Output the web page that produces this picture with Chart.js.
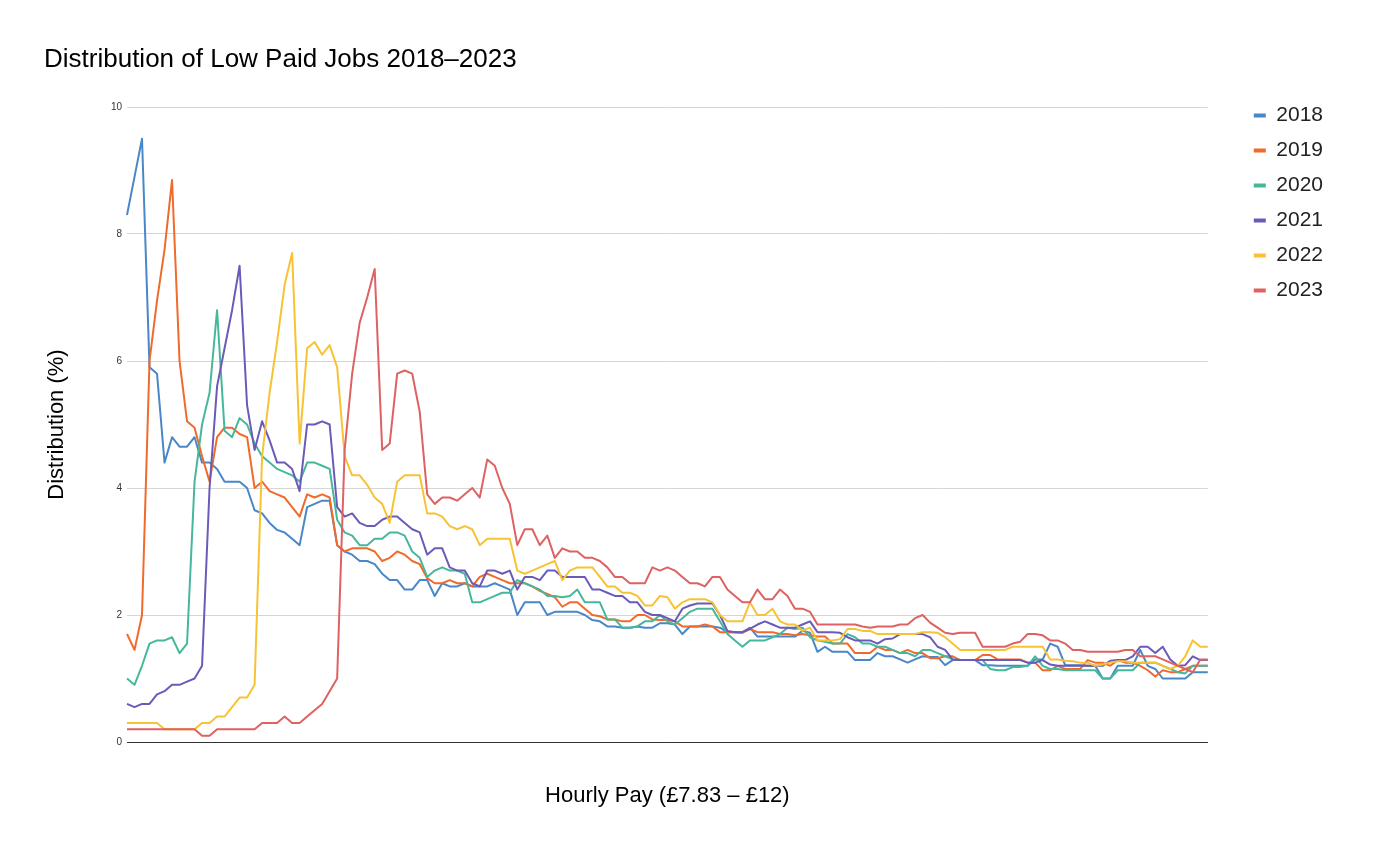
<!DOCTYPE html>
<html>
<head>
<meta charset="utf-8">
<title>Distribution of Low Paid Jobs 2018–2023</title>
<script src="https://cdn.jsdelivr.net/npm/chart.js@4.4.1/dist/chart.umd.min.js"></script>
<style>
  html, body { margin: 0; padding: 0; background: #fff; }
  #wrap { width: 1380px; height: 851px; }
</style>
</head>
<body>
<div id="wrap"><canvas id="myChart" width="1380" height="851"></canvas></div>
<script>
// pay axis runs from £7.83 to £12, one step per reading
const payStart = 7.83;
const payEnd = 12;
const steps = 145;

const years = ['2018', '2019', '2020', '2021', '2022', '2023'];
const colours = ['#4a87c9', '#f06a2c', '#47b79c', '#6b5ab8', '#f8c235', '#de6262'];

// distribution (%)
const dist2018 = [
  8.3, 8.9, 9.5, 5.9, 5.8, 4.4, 4.8, 4.65, 4.65, 4.8,
  4.4, 4.4, 4.3, 4.1, 4.1, 4.1, 4.0, 3.65, 3.6, 3.45,
  3.34, 3.3, 3.2, 3.1, 3.7, 3.75, 3.8, 3.8, 3.1, 3.0,
  2.95, 2.85, 2.85, 2.8, 2.65, 2.55, 2.55, 2.4, 2.4, 2.55,
  2.55, 2.3, 2.5, 2.45, 2.45, 2.5, 2.45, 2.45, 2.45, 2.5,
  2.45, 2.4, 2.0, 2.2, 2.2, 2.2, 2.0, 2.05, 2.05, 2.05,
  2.05, 2.0, 1.92, 1.9, 1.82, 1.82, 1.8, 1.8, 1.82, 1.8,
  1.8, 1.87, 1.87, 1.85, 1.7, 1.82, 1.82, 1.82, 1.82, 1.8,
  1.73, 1.73, 1.73, 1.8, 1.66, 1.66, 1.66, 1.66, 1.66, 1.66,
  1.75, 1.72, 1.42, 1.5, 1.42, 1.42, 1.42, 1.29, 1.29, 1.29,
  1.4, 1.35, 1.35, 1.3, 1.25, 1.3, 1.35, 1.34, 1.34, 1.21,
  1.29, 1.29, 1.29, 1.29, 1.21, 1.21, 1.2, 1.2, 1.2, 1.2,
  1.2, 1.3, 1.3, 1.55, 1.5, 1.21, 1.21, 1.21, 1.2, 1.2,
  1.0, 1.0, 1.2, 1.2, 1.2, 1.45, 1.2, 1.15, 1.0, 1.0,
  1.0, 1.0, 1.1, 1.1, 1.1
];
const dist2019 = [
  1.7, 1.45, 2.0, 6.0, 6.95, 7.75, 8.85, 6.0, 5.05, 4.95,
  4.5, 4.1, 4.8, 4.95, 4.95, 4.85, 4.8, 4.0, 4.1, 3.95,
  3.9, 3.85, 3.7, 3.55, 3.9, 3.85, 3.9, 3.85, 3.1, 3.0,
  3.05, 3.05, 3.05, 3.0, 2.85, 2.9, 3.0, 2.95, 2.85, 2.8,
  2.58, 2.5, 2.5, 2.55, 2.5, 2.5, 2.45, 2.6, 2.65, 2.6,
  2.55, 2.5, 2.5, 2.5, 2.45, 2.38, 2.33, 2.28, 2.13, 2.2,
  2.2, 2.1, 2.0, 1.98, 1.93, 1.93, 1.9, 1.9, 2.0, 2.0,
  1.93, 1.92, 1.92, 1.9, 1.82, 1.82, 1.82, 1.85, 1.82, 1.73,
  1.73, 1.73, 1.72, 1.78, 1.73, 1.73, 1.73, 1.7, 1.7, 1.68,
  1.7, 1.68, 1.66, 1.66, 1.55, 1.55, 1.55, 1.4, 1.4, 1.4,
  1.5, 1.45, 1.45, 1.4, 1.45, 1.4, 1.4, 1.32, 1.32, 1.35,
  1.35, 1.29, 1.29, 1.29, 1.37, 1.37, 1.3, 1.3, 1.3, 1.3,
  1.25, 1.25, 1.13, 1.13, 1.2, 1.15, 1.15, 1.15, 1.29, 1.25,
  1.25, 1.2, 1.29, 1.25, 1.25, 1.2, 1.13, 1.03, 1.13, 1.1,
  1.1, 1.15, 1.2, 1.2, 1.2
];
const dist2020 = [
  1.0, 0.9, 1.2, 1.55, 1.6, 1.6, 1.65, 1.4, 1.55, 4.1,
  5.0, 5.5, 6.8, 4.9, 4.8, 5.1, 5.0, 4.7, 4.5, 4.4,
  4.3, 4.25, 4.2, 4.1, 4.4, 4.4, 4.35, 4.3, 3.5, 3.3,
  3.25, 3.1, 3.1, 3.2, 3.2, 3.3, 3.3, 3.25, 3.0, 2.9,
  2.6, 2.7, 2.75, 2.7, 2.7, 2.65, 2.2, 2.2, 2.25, 2.3,
  2.35, 2.35, 2.55, 2.5, 2.45, 2.4, 2.3, 2.3, 2.28, 2.3,
  2.4, 2.2, 2.2, 2.2, 1.93, 1.93, 1.8, 1.8, 1.82, 1.9,
  1.9, 2.0, 1.9, 1.85, 1.95, 2.05, 2.1, 2.1, 2.1, 1.9,
  1.7, 1.6, 1.5, 1.6, 1.6, 1.6, 1.65, 1.7, 1.8, 1.78,
  1.8, 1.65, 1.6, 1.58, 1.55, 1.55, 1.7, 1.65, 1.55, 1.55,
  1.5, 1.5, 1.45, 1.4, 1.4, 1.35, 1.45, 1.45, 1.4, 1.35,
  1.3, 1.29, 1.29, 1.29, 1.29, 1.15, 1.13, 1.13, 1.18, 1.18,
  1.2, 1.35, 1.2, 1.15, 1.15, 1.13, 1.13, 1.13, 1.13, 1.13,
  1.0, 1.0, 1.13, 1.13, 1.13, 1.25, 1.25, 1.25, 1.2, 1.15,
  1.1, 1.08, 1.2, 1.2, 1.2
];
const dist2021 = [
  0.6, 0.55, 0.6, 0.6, 0.75, 0.8, 0.9, 0.9, 0.95, 1.0,
  1.2, 4.0, 5.6, 6.2, 6.8, 7.5, 5.3, 4.6, 5.05, 4.75,
  4.4, 4.4, 4.3, 3.95, 5.0, 5.0, 5.05, 5.0, 3.7, 3.55,
  3.6, 3.45, 3.4, 3.4, 3.5, 3.55, 3.55, 3.45, 3.35, 3.3,
  2.95, 3.05, 3.05, 2.75, 2.7, 2.7, 2.5, 2.45, 2.7, 2.7,
  2.65, 2.7, 2.4, 2.6, 2.6, 2.55, 2.7, 2.7, 2.6, 2.6,
  2.6, 2.6, 2.4, 2.4, 2.35, 2.3, 2.3, 2.2, 2.2, 2.05,
  2.0, 2.0, 1.95, 1.9, 2.1, 2.15, 2.18, 2.18, 2.18, 2.0,
  1.75, 1.73, 1.73, 1.78, 1.85, 1.9, 1.85, 1.8, 1.8, 1.8,
  1.85, 1.9, 1.73, 1.73, 1.73, 1.72, 1.65, 1.6, 1.6, 1.6,
  1.55, 1.62, 1.63, 1.7, 1.7, 1.7, 1.7, 1.65, 1.5, 1.45,
  1.3, 1.29, 1.29, 1.29, 1.29, 1.29, 1.29, 1.29, 1.29, 1.29,
  1.25, 1.25, 1.29, 1.22, 1.2, 1.2, 1.2, 1.2, 1.2, 1.2,
  1.2, 1.28, 1.29, 1.29, 1.35, 1.5, 1.5, 1.4, 1.5, 1.3,
  1.2, 1.21, 1.35, 1.29, 1.29
];
const dist2022 = [
  0.3, 0.3, 0.3, 0.3, 0.3, 0.2, 0.2, 0.2, 0.2, 0.2,
  0.3, 0.3, 0.4, 0.4, 0.55, 0.7, 0.7, 0.9, 4.5, 5.5,
  6.3, 7.2, 7.7, 4.7, 6.2, 6.3, 6.1, 6.25, 5.9, 4.5,
  4.2, 4.2, 4.05, 3.85, 3.75, 3.45, 4.1, 4.2, 4.2, 4.2,
  3.6, 3.6, 3.55, 3.4, 3.35, 3.4, 3.35, 3.1, 3.2, 3.2,
  3.2, 3.2, 2.7, 2.65, 2.7, 2.75, 2.8, 2.85, 2.55, 2.7,
  2.75, 2.75, 2.75, 2.6, 2.45, 2.45, 2.35, 2.35, 2.3, 2.15,
  2.15, 2.3, 2.28, 2.1, 2.2, 2.25, 2.25, 2.25, 2.2, 2.0,
  1.9, 1.9, 1.9, 2.2, 2.0, 2.0, 2.1, 1.9, 1.85, 1.85,
  1.75, 1.8, 1.6, 1.6, 1.6, 1.62, 1.78, 1.78, 1.75, 1.75,
  1.7, 1.7, 1.7, 1.7, 1.7, 1.7, 1.73, 1.73, 1.72, 1.65,
  1.55, 1.45, 1.45, 1.45, 1.45, 1.45, 1.45, 1.45, 1.5, 1.5,
  1.5, 1.5, 1.5, 1.3, 1.3, 1.28, 1.27, 1.25, 1.25, 1.2,
  1.22, 1.25, 1.27, 1.27, 1.25, 1.25, 1.25, 1.25, 1.2, 1.15,
  1.2, 1.35, 1.6, 1.5, 1.5
];
const dist2023 = [
  0.2, 0.2, 0.2, 0.2, 0.2, 0.2, 0.2, 0.2, 0.2, 0.2,
  0.1, 0.1, 0.2, 0.2, 0.2, 0.2, 0.2, 0.2, 0.3, 0.3,
  0.3, 0.4, 0.3, 0.3, 0.4, 0.5, 0.6, 0.8, 1.0, 4.6,
  5.8, 6.6, 7.0, 7.45, 4.6, 4.7, 5.8, 5.85, 5.8, 5.2,
  3.9, 3.75, 3.85, 3.85, 3.8, 3.9, 4.0, 3.85, 4.45, 4.35,
  4.0, 3.75, 3.1, 3.35, 3.35, 3.1, 3.25, 2.9, 3.05, 3.0,
  3.0, 2.9, 2.9, 2.85, 2.75, 2.6, 2.6, 2.5, 2.5, 2.5,
  2.75, 2.7, 2.75, 2.7, 2.6, 2.5, 2.5, 2.45, 2.6, 2.6,
  2.4, 2.3, 2.2, 2.2, 2.4, 2.25, 2.25, 2.4, 2.3, 2.1,
  2.1, 2.05, 1.85, 1.85, 1.85, 1.85, 1.85, 1.85, 1.82, 1.8,
  1.82, 1.82, 1.82, 1.85, 1.85, 1.95, 2.0, 1.88, 1.8, 1.72,
  1.7, 1.72, 1.72, 1.72, 1.5, 1.5, 1.5, 1.5, 1.55, 1.58,
  1.7, 1.7, 1.68, 1.6, 1.6, 1.55, 1.45, 1.45, 1.42, 1.42,
  1.42, 1.42, 1.42, 1.45, 1.45, 1.35, 1.35, 1.35, 1.3, 1.25,
  1.2, 1.15, 1.1, 1.3, 1.3
];

const series = [dist2018, dist2019, dist2020, dist2021, dist2022, dist2023];

// category labels for the pay axis (not shown)
const payLabels = [];
for (let i = 0; i < steps; i++) {
  payLabels.push('£' + (payStart + i * (payEnd - payStart) / (steps - 1)).toFixed(2));
}

Chart.defaults.font.family = "'Liberation Sans', Arial, Helvetica, sans-serif";

var ctx = document.getElementById('myChart').getContext('2d');
var chart = new Chart(ctx, {
  type: 'line',
  data: {
    labels: payLabels,
    datasets: series.map((values, i) => ({
      label: years[i],
      data: values,
      borderColor: colours[i],
      backgroundColor: colours[i],
      borderWidth: 2,
      borderJoinStyle: 'round',
      pointRadius: 0,
      tension: 0,
      // later years sit on top
      order: series.length - i
    }))
  },
  options: {
    responsive: false,
    animation: false,
    devicePixelRatio: 1,
    layout: { padding: { left: 44, right: 47, top: 0, bottom: 0 } },
    plugins: {
      title: {
        display: true,
        text: 'Distribution of Low Paid Jobs 2018–2023',
        align: 'start',
        color: '#000',
        font: { size: 26, weight: 'normal' },
        padding: { top: 44.4, bottom: 31.4 }
      },
      legend: {
        position: 'right',
        align: 'start',
        title: { display: true, text: '', font: { size: 10 }, padding: { top: 79, bottom: 0 } },
        labels: {
          boxWidth: 12,
          boxHeight: 4,
          padding: 14,
          color: '#222',
          font: { size: 21 },
          sort: (a, b) => a.datasetIndex - b.datasetIndex,
          generateLabels: (c) => Chart.defaults.plugins.legend.labels.generateLabels(c)
            .map(l => Object.assign(l, { lineWidth: 0 }))
        }
      },
      tooltip: { enabled: false }
    },
    scales: {
      x: {
        grid: { display: false, drawTicks: false },
        border: { display: true, color: '#333' },
        ticks: { display: false },
        title: {
          display: true,
          text: 'Hourly Pay (£7.83 – £12)',
          color: '#000',
          font: { size: 22 },
          padding: { top: 40.8, bottom: 41.8 }
        }
      },
      y: {
        min: 0,
        max: 10,
        ticks: { stepSize: 2, padding: 5, color: '#333', font: { size: 10 } },
        grid: {
          drawTicks: false,
          color: (c) => (c.tick && c.tick.value === 0) ? '#333' : '#d6d6d6'
        },
        border: { display: false },
        title: {
          display: true,
          text: 'Distribution (%)',
          color: '#000',
          font: { size: 22 },
          padding: { top: 0, bottom: 0 }
        },
        afterFit: (s) => { s.width = 83; }
      },
      // empty gap between plot and legend
      gap: {
        position: 'right',
        display: true,
        grid: { display: false, drawTicks: false },
        border: { display: false },
        ticks: { display: false },
        afterFit: (s) => { s.width = 32; }
      }
    }
  }
});
</script>
</body>
</html>
